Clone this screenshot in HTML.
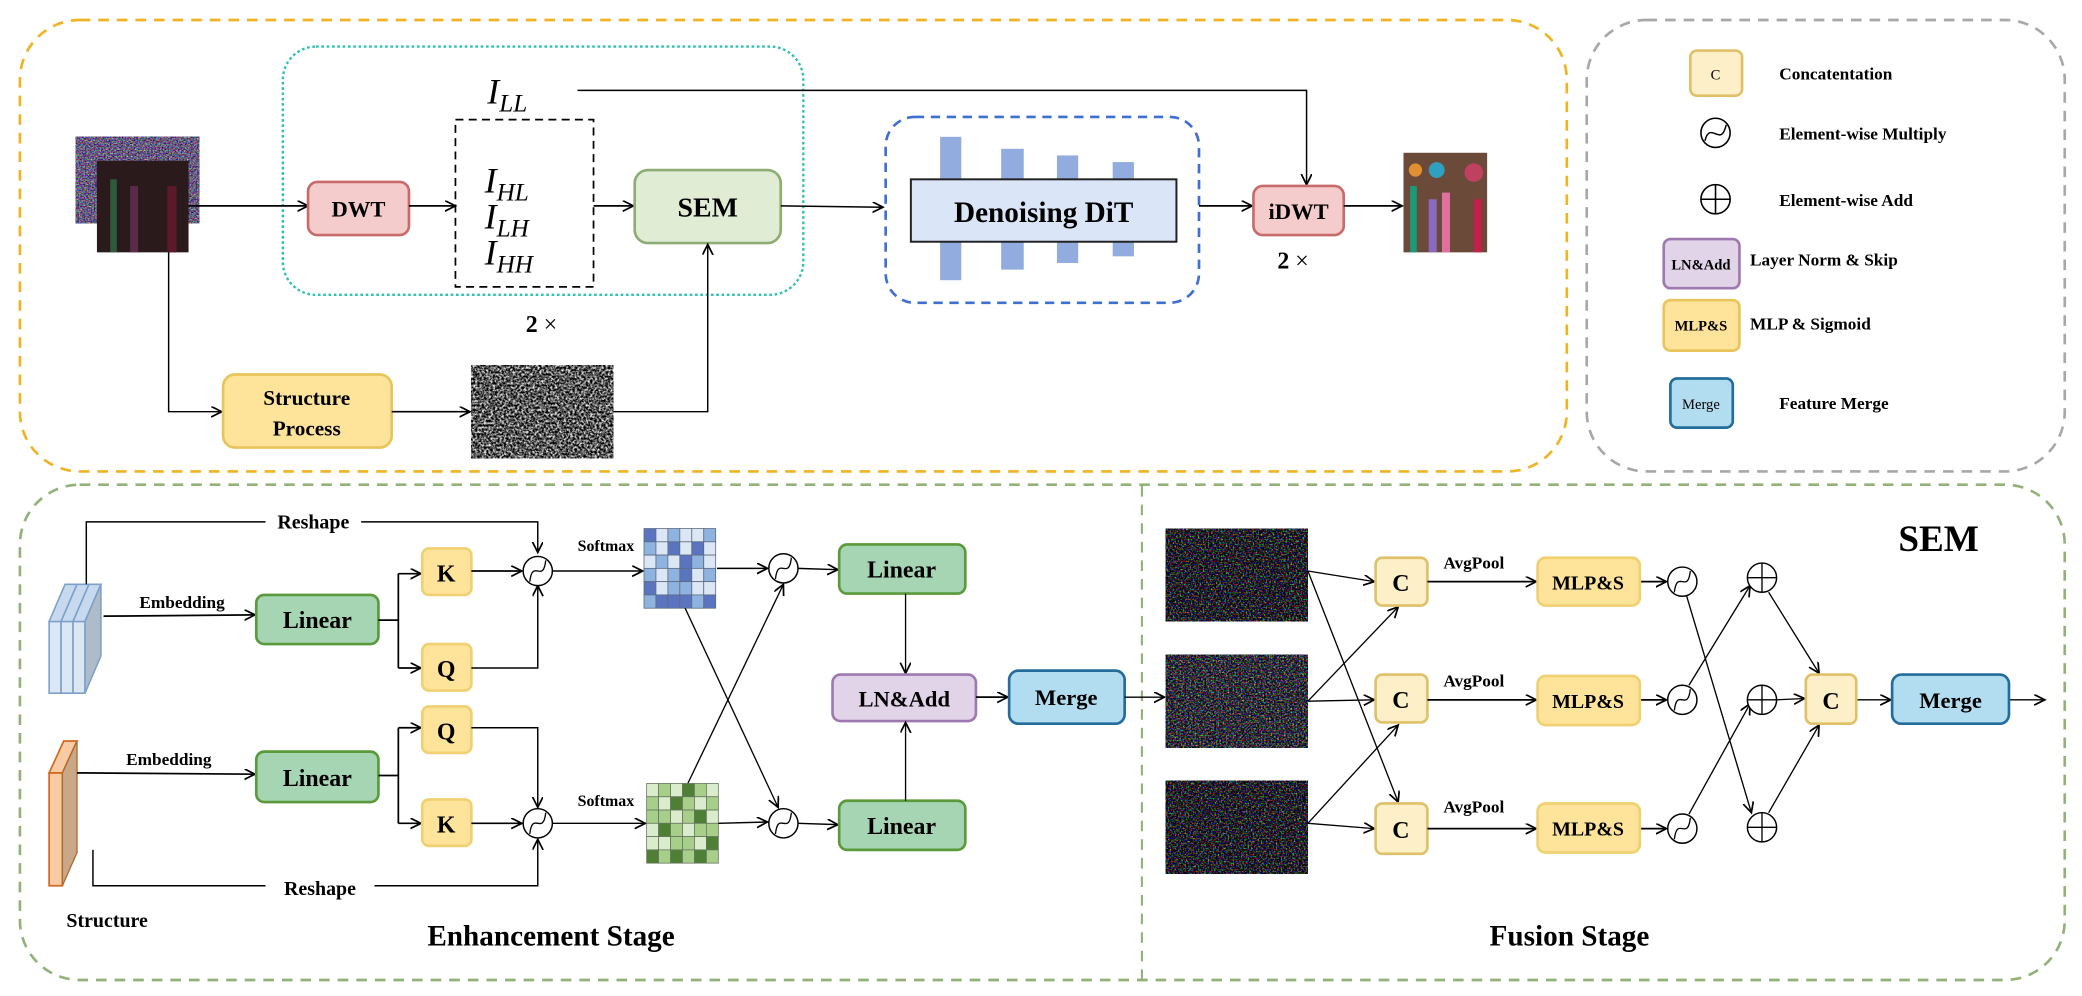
<!DOCTYPE html>
<html><head><meta charset="utf-8"><style>
html,body{margin:0;padding:0;background:#fff}
svg{display:block}
text{font-family:"Liberation Serif",serif;font-weight:bold;fill:#000}
</style></head><body>
<svg width="2082" height="996" viewBox="0 0 1568 750" xmlns="http://www.w3.org/2000/svg">
<defs>
<marker id="a" markerWidth="10" markerHeight="10" refX="8" refY="4" orient="auto" markerUnits="userSpaceOnUse"><path d="M0,0 L8,4 L0,8" fill="none" stroke="#000" stroke-width="1.3"/></marker>
<filter id="nz" x="0" y="0" width="100%" height="100%" color-interpolation-filters="sRGB"><feTurbulence type="fractalNoise" baseFrequency="0.9" numOctaves="2" seed="3"/><feColorMatrix type="matrix" values="1.6 0 0 0 -0.4  0 1.6 0 0 -0.45  0 0 1.6 0 -0.3  0 0 0 0 1"/></filter>
<filter id="gz" x="0" y="0" width="100%" height="100%" color-interpolation-filters="sRGB"><feTurbulence type="fractalNoise" baseFrequency="0.6" numOctaves="3" seed="7"/><feColorMatrix type="matrix" values="2.2 0 0 0 -0.75  2.2 0 0 0 -0.75  2.2 0 0 0 -0.75  0 0 0 0 1"/></filter>
<filter id="cz" x="0" y="0" width="100%" height="100%" color-interpolation-filters="sRGB"><feTurbulence type="fractalNoise" baseFrequency="0.8" numOctaves="2" seed="11"/><feColorMatrix type="matrix" values="2.2 0 0 0 -0.95  0 2.2 0 0 -0.95  0 0 2.2 0 -0.9  0 0 0 0 1"/></filter>
<filter id="dz" x="0" y="0" width="100%" height="100%" color-interpolation-filters="sRGB"><feTurbulence type="fractalNoise" baseFrequency="0.8" numOctaves="2" seed="5"/><feColorMatrix type="matrix" values="2.5 0 0 0 -1.2  0 2.5 0 0 -1.2  0 0 2.5 0 -1.15  0 0 0 0 1"/></filter>
</defs>

<!-- outer boxes -->
<rect x="15" y="15" width="1165" height="340" rx="45" fill="none" stroke="#f0b323" stroke-width="2" stroke-dasharray="8,6"/>
<rect x="1195" y="15" width="360" height="340" rx="45" fill="none" stroke="#a8a8a8" stroke-width="2" stroke-dasharray="8,6"/>
<rect x="15" y="365" width="1540" height="373" rx="45" fill="none" stroke="#93b27a" stroke-width="2" stroke-dasharray="8,6"/>
<line x1="860" y1="366" x2="860" y2="737" stroke="#93b27a" stroke-width="1.6" stroke-dasharray="8,6"/>

<!-- TOP -->
<rect x="213" y="35" width="392" height="187" rx="25" fill="none" stroke="#2fc1b4" stroke-width="1.8" stroke-dasharray="2,2"/>
<rect x="57" y="103" width="93" height="65" filter="url(#nz)"/>
<rect x="73" y="121" width="69" height="69" fill="#2a1a1c"/>
<rect x="83" y="135" width="5" height="55" fill="#2d5a3a"/><rect x="98" y="140" width="6" height="50" fill="#5a2a4a"/><rect x="126" y="140" width="7" height="50" fill="#5a1a2a"/>
<line x1="142" y1="155" x2="232" y2="155" stroke="#000" stroke-width="1.3" marker-end="url(#a)"/>
<rect x="232" y="137" width="76" height="40" rx="7" fill="#f5cccc" stroke="#c76b6b" stroke-width="2"/>
<text x="270" y="163" font-size="17" text-anchor="middle">DWT</text>
<line x1="308" y1="155" x2="343" y2="155" stroke="#000" stroke-width="1.3" marker-end="url(#a)"/>
<rect x="343" y="90" width="104" height="126" fill="none" stroke="#000" stroke-width="1.3" stroke-dasharray="6,4"/>
<g font-style="italic">
<text x="367" y="78" font-size="27" style="font-weight:normal">I<tspan font-size="19" dy="6">LL</tspan></text>
<text x="365" y="145" font-size="27" style="font-weight:normal">I<tspan font-size="19" dy="6">HL</tspan></text>
<text x="365" y="172" font-size="27" style="font-weight:normal">I<tspan font-size="19" dy="6">LH</tspan></text>
<text x="365" y="199" font-size="27" style="font-weight:normal">I<tspan font-size="19" dy="6">HH</tspan></text>
</g>
<line x1="447" y1="155" x2="477" y2="155" stroke="#000" stroke-width="1.3" marker-end="url(#a)"/>
<rect x="478" y="128" width="110" height="55" rx="10" fill="#e0ecd4" stroke="#8eac74" stroke-width="2"/>
<text x="533" y="163" font-size="21" text-anchor="middle">SEM</text>
<line x1="588" y1="155" x2="665" y2="156" stroke="#000" stroke-width="1.1" marker-end="url(#a)"/>
<rect x="667" y="88" width="236" height="140" rx="22" fill="none" stroke="#3f6fd0" stroke-width="2" stroke-dasharray="7,5"/>
<g fill="#93ace0">
<rect x="708" y="103" width="16" height="108"/><rect x="754" y="112" width="17" height="91"/><rect x="796" y="117" width="16" height="81"/><rect x="838" y="122" width="16" height="71"/>
</g>
<rect x="686" y="135" width="200" height="47" fill="#dae6f8" stroke="#222" stroke-width="1.5"/>
<text x="786" y="167" font-size="22" text-anchor="middle">Denoising DiT</text>
<line x1="903" y1="155" x2="943" y2="155" stroke="#000" stroke-width="1.3" marker-end="url(#a)"/>
<polyline points="435,68 984,68 984,139" fill="none" stroke="#000" stroke-width="1.1" marker-end="url(#a)"/>
<rect x="944" y="140" width="68" height="37" rx="7" fill="#f5cccc" stroke="#c76b6b" stroke-width="2"/>
<text x="978" y="165" font-size="17" text-anchor="middle">iDWT</text>
<line x1="1012" y1="155" x2="1056" y2="155" stroke="#000" stroke-width="1.3" marker-end="url(#a)"/>
<rect x="1057" y="115" width="63" height="75" fill="#6b4a3a"/>
<rect x="1062" y="140" width="5" height="50" fill="#1a9a7a"/><rect x="1076" y="150" width="6" height="40" fill="#8a6ac0"/><rect x="1086" y="145" width="6" height="45" fill="#e070a0"/><rect x="1110" y="150" width="6" height="40" fill="#c0204a"/>
<circle cx="1082" cy="128" r="6" fill="#30a0c0"/><circle cx="1110" cy="130" r="7" fill="#c04060"/><circle cx="1066" cy="128" r="5" fill="#e09030"/>
<text x="962" y="202" font-size="18">2 <tspan style="font-weight:normal">×</tspan></text>
<text x="396" y="250" font-size="18">2 <tspan style="font-weight:normal">×</tspan></text>
<polyline points="127,190 127,310 167,310" fill="none" stroke="#000" stroke-width="1.1" marker-end="url(#a)"/>
<rect x="168" y="282" width="127" height="55" rx="9" fill="#fde49a" stroke="#e8c45a" stroke-width="2"/>
<text x="231" y="305" font-size="16" text-anchor="middle">Structure</text>
<text x="231" y="328" font-size="16" text-anchor="middle">Process</text>
<line x1="295" y1="310" x2="354" y2="310" stroke="#000" stroke-width="1.3" marker-end="url(#a)"/>
<rect x="355" y="275" width="107" height="70" filter="url(#gz)"/>
<polyline points="462,310 533,310 533,184" fill="none" stroke="#000" stroke-width="1.1" marker-end="url(#a)"/>

<!-- LEGEND -->
<rect x="1273" y="38" width="39" height="34" rx="5" fill="#fdf0c8" stroke="#e0c068" stroke-width="2"/>
<text x="1292" y="60" font-size="11" text-anchor="middle" style="font-weight:normal">C</text>
<text x="1340" y="60" font-size="13">Concatentation</text>
<circle cx="1292" cy="100" r="11" fill="#fff" stroke="#000" stroke-width="1.2"/>
<path d="M1284,106 C1288,90 1296,112 1300,94" fill="none" stroke="#000" stroke-width="1.1"/>
<text x="1340" y="105" font-size="13">Element-wise Multiply</text>
<circle cx="1292" cy="150" r="11" fill="#fff" stroke="#000" stroke-width="1.2"/>
<line x1="1281" y1="150" x2="1303" y2="150" stroke="#000" stroke-width="1.2"/><line x1="1292" y1="139" x2="1292" y2="161" stroke="#000" stroke-width="1.2"/>
<text x="1340" y="155" font-size="13">Element-wise Add</text>
<rect x="1253" y="180" width="57" height="37" rx="5" fill="#e2d4e8" stroke="#9d79b0" stroke-width="2"/>
<text x="1281" y="203" font-size="11" text-anchor="middle">LN&amp;Add</text>
<text x="1318" y="200" font-size="13">Layer Norm &amp; Skip</text>
<rect x="1253" y="226" width="57" height="38" rx="5" fill="#fde49a" stroke="#e8c45a" stroke-width="2"/>
<text x="1281" y="249" font-size="11" text-anchor="middle">MLP&amp;S</text>
<text x="1318" y="248" font-size="13">MLP &amp; Sigmoid</text>
<rect x="1258" y="285" width="47" height="37" rx="5" fill="#b2dcf0" stroke="#236d9b" stroke-width="2"/>
<text x="1281" y="308" font-size="11" text-anchor="middle" style="font-weight:normal">Merge</text>
<text x="1340" y="308" font-size="13">Feature Merge</text>

<!-- ENHANCEMENT -->
<g stroke="#7ea0c8" stroke-width="1.2">
<polygon points="37,468 46,468 46,522 37,522" fill="#dbe7f5"/><polygon points="37,468 46,468 58,440 49,440" fill="#c6d9ef"/>
<polygon points="46,468 55,468 55,522 46,522" fill="#dbe7f5"/><polygon points="46,468 55,468 67,440 58,440" fill="#c6d9ef"/>
<polygon points="55,468 64,468 64,522 55,522" fill="#dbe7f5"/><polygon points="55,468 64,468 76,440 67,440" fill="#c6d9ef"/>
<polygon points="64,468 76,440 76,494 64,522" fill="#aebbc8"/>
</g>
<polyline points="65,440 65,393 200,393" fill="none" stroke="#000" stroke-width="1.1"/>
<text x="236" y="398" font-size="15" text-anchor="middle">Reshape</text>
<polyline points="272,393 405,393 405,416" fill="none" stroke="#000" stroke-width="1.1" marker-end="url(#a)"/>
<text x="105" y="458" font-size="13">Embedding</text>
<line x1="78" y1="464" x2="192" y2="463" stroke="#000" stroke-width="1.3" marker-end="url(#a)"/>
<rect x="193" y="448" width="92" height="37" rx="6" fill="#a6d5b4" stroke="#5a9a3a" stroke-width="2"/>
<text x="239" y="473" font-size="18" text-anchor="middle">Linear</text>
<polyline points="285,467 300,467" fill="none" stroke="#000" stroke-width="1.3"/>
<polyline points="300,432 300,503" fill="none" stroke="#000" stroke-width="1.3"/>
<line x1="300" y1="432" x2="317" y2="432" stroke="#000" stroke-width="1.3" marker-end="url(#a)"/>
<line x1="300" y1="503" x2="317" y2="503" stroke="#000" stroke-width="1.3" marker-end="url(#a)"/>
<rect x="318" y="413" width="37" height="35" rx="5" fill="#fde49a" stroke="#f0d070" stroke-width="2"/>
<text x="336" y="438" font-size="18" text-anchor="middle">K</text>
<rect x="318" y="485" width="37" height="35" rx="5" fill="#fde49a" stroke="#f0d070" stroke-width="2"/>
<text x="336" y="510" font-size="18" text-anchor="middle">Q</text>
<line x1="355" y1="430" x2="393" y2="430" stroke="#000" stroke-width="1.3" marker-end="url(#a)"/>
<polyline points="355,503 405,503 405,441" fill="none" stroke="#000" stroke-width="1.1" marker-end="url(#a)"/>
<circle cx="405" cy="430" r="11" fill="#fff" stroke="#000" stroke-width="1.1"/><path d="M399,438 C401,420 409,440 411,422" fill="none" stroke="#000"/>
<text x="435" y="415" font-size="12">Softmax</text>
<line x1="416" y1="430" x2="484" y2="430" stroke="#000" stroke-width="1.1" marker-end="url(#a)"/>
<g stroke="#5e6b80" stroke-width="0.6">
<rect x="485" y="398" width="9" height="10" fill="#5b74c0"/><rect x="494" y="398" width="9" height="10" fill="#dbe7f5"/><rect x="503" y="398" width="9" height="10" fill="#8fb3e0"/><rect x="512" y="398" width="9" height="10" fill="#dbe7f5"/><rect x="521" y="398" width="9" height="10" fill="#dbe7f5"/><rect x="530" y="398" width="9" height="10" fill="#8fb3e0"/>
<rect x="485" y="408" width="9" height="10" fill="#8fb3e0"/><rect x="494" y="408" width="9" height="10" fill="#dbe7f5"/><rect x="503" y="408" width="9" height="10" fill="#5b74c0"/><rect x="512" y="408" width="9" height="10" fill="#dbe7f5"/><rect x="521" y="408" width="9" height="10" fill="#5b74c0"/><rect x="530" y="408" width="9" height="10" fill="#dbe7f5"/>
<rect x="485" y="418" width="9" height="10" fill="#dbe7f5"/><rect x="494" y="418" width="9" height="10" fill="#8fb3e0"/><rect x="503" y="418" width="9" height="10" fill="#dbe7f5"/><rect x="512" y="418" width="9" height="10" fill="#5b74c0"/><rect x="521" y="418" width="9" height="10" fill="#8fb3e0"/><rect x="530" y="418" width="9" height="10" fill="#dbe7f5"/>
<rect x="485" y="428" width="9" height="10" fill="#8fb3e0"/><rect x="494" y="428" width="9" height="10" fill="#dbe7f5"/><rect x="503" y="428" width="9" height="10" fill="#8fb3e0"/><rect x="512" y="428" width="9" height="10" fill="#5b74c0"/><rect x="521" y="428" width="9" height="10" fill="#dbe7f5"/><rect x="530" y="428" width="9" height="10" fill="#8fb3e0"/>
<rect x="485" y="438" width="9" height="10" fill="#5b74c0"/><rect x="494" y="438" width="9" height="10" fill="#dbe7f5"/><rect x="503" y="438" width="9" height="10" fill="#8fb3e0"/><rect x="512" y="438" width="9" height="10" fill="#8fb3e0"/><rect x="521" y="438" width="9" height="10" fill="#dbe7f5"/><rect x="530" y="438" width="9" height="10" fill="#dbe7f5"/>
<rect x="485" y="448" width="9" height="10" fill="#8fb3e0"/><rect x="494" y="448" width="9" height="10" fill="#5b74c0"/><rect x="503" y="448" width="9" height="10" fill="#5b74c0"/><rect x="512" y="448" width="9" height="10" fill="#5b74c0"/><rect x="521" y="448" width="9" height="10" fill="#8fb3e0"/><rect x="530" y="448" width="9" height="10" fill="#5b74c0"/>
</g>
<line x1="540" y1="428" x2="578" y2="428" stroke="#000" stroke-width="1.1" marker-end="url(#a)"/>
<circle cx="590" cy="428" r="11" fill="#fff" stroke="#000" stroke-width="1.1"/><path d="M584,436 C586,418 594,438 596,420" fill="none" stroke="#000"/>
<line x1="601" y1="428" x2="631" y2="429" stroke="#000" stroke-width="1.1" marker-end="url(#a)"/>
<rect x="632" y="410" width="95" height="37" rx="6" fill="#a6d5b4" stroke="#5a9a3a" stroke-width="2"/>
<text x="679" y="435" font-size="18" text-anchor="middle">Linear</text>
<line x1="682" y1="447" x2="682" y2="507" stroke="#000" stroke-width="1" marker-end="url(#a)"/>
<rect x="627" y="508" width="108" height="35" rx="6" fill="#e2d4e8" stroke="#9d79b0" stroke-width="2"/>
<text x="681" y="532" font-size="17" text-anchor="middle">LN&amp;Add</text>
<line x1="735" y1="525" x2="759" y2="525" stroke="#000" stroke-width="1.3" marker-end="url(#a)"/>
<rect x="760" y="505" width="87" height="40" rx="7" fill="#b2dcf0" stroke="#236d9b" stroke-width="2"/>
<text x="803" y="531" font-size="17" text-anchor="middle">Merge</text>
<line x1="847" y1="525" x2="877" y2="525" stroke="#000" stroke-width="1.1" marker-end="url(#a)"/>
<line x1="516" y1="458" x2="586" y2="608" stroke="#000" stroke-width="1" marker-end="url(#a)"/>
<line x1="518" y1="590" x2="590" y2="440" stroke="#000" stroke-width="1" marker-end="url(#a)"/>

<polygon points="37,582 47,582 47,667 37,667" fill="#f8cba4" stroke="#d46a20" stroke-width="1.3"/>
<polygon points="37,582 47,582 58,558 48,558" fill="#f8cba4" stroke="#d46a20" stroke-width="1.3"/>
<polygon points="47,582 58,558 58,642 47,667" fill="#c8a888" stroke="#b06a30" stroke-width="1"/>
<text x="95" y="576" font-size="13">Embedding</text>
<line x1="58" y1="582" x2="192" y2="583" stroke="#000" stroke-width="1.3" marker-end="url(#a)"/>
<rect x="193" y="566" width="92" height="38" rx="6" fill="#a6d5b4" stroke="#5a9a3a" stroke-width="2"/>
<text x="239" y="592" font-size="18" text-anchor="middle">Linear</text>
<line x1="285" y1="584" x2="300" y2="584" stroke="#000" stroke-width="1.3"/>
<line x1="300" y1="548" x2="300" y2="620" stroke="#000" stroke-width="1.3"/>
<line x1="300" y1="548" x2="317" y2="548" stroke="#000" stroke-width="1.3" marker-end="url(#a)"/>
<line x1="300" y1="620" x2="317" y2="620" stroke="#000" stroke-width="1.3" marker-end="url(#a)"/>
<rect x="318" y="532" width="37" height="35" rx="5" fill="#fde49a" stroke="#f0d070" stroke-width="2"/>
<text x="336" y="557" font-size="18" text-anchor="middle">Q</text>
<rect x="318" y="602" width="37" height="35" rx="5" fill="#fde49a" stroke="#f0d070" stroke-width="2"/>
<text x="336" y="627" font-size="18" text-anchor="middle">K</text>
<polyline points="355,548 405,548 405,608" fill="none" stroke="#000" stroke-width="1.1" marker-end="url(#a)"/>
<line x1="355" y1="620" x2="393" y2="620" stroke="#000" stroke-width="1.3" marker-end="url(#a)"/>
<circle cx="405" cy="620" r="11" fill="#fff" stroke="#000" stroke-width="1.1"/><path d="M399,628 C401,610 409,630 411,612" fill="none" stroke="#000"/>
<polyline points="70,640 70,667 200,667" fill="none" stroke="#000" stroke-width="1.1"/>
<text x="241" y="674" font-size="15" text-anchor="middle">Reshape</text>
<polyline points="282,667 405,667 405,632" fill="none" stroke="#000" stroke-width="1.1" marker-end="url(#a)"/>
<text x="435" y="607" font-size="12">Softmax</text>
<line x1="416" y1="620" x2="486" y2="620" stroke="#000" stroke-width="1.1" marker-end="url(#a)"/>
<g stroke="#667760" stroke-width="0.6">
<rect x="487" y="590" width="9" height="10" fill="#dbeccd"/><rect x="496" y="590" width="9" height="10" fill="#a8cf8a"/><rect x="505" y="590" width="9" height="10" fill="#dbeccd"/><rect x="514" y="590" width="9" height="10" fill="#4f7f35"/><rect x="523" y="590" width="9" height="10" fill="#a8cf8a"/><rect x="532" y="590" width="9" height="10" fill="#dbeccd"/>
<rect x="487" y="600" width="9" height="10" fill="#a8cf8a"/><rect x="496" y="600" width="9" height="10" fill="#dbeccd"/><rect x="505" y="600" width="9" height="10" fill="#4f7f35"/><rect x="514" y="600" width="9" height="10" fill="#a8cf8a"/><rect x="523" y="600" width="9" height="10" fill="#dbeccd"/><rect x="532" y="600" width="9" height="10" fill="#a8cf8a"/>
<rect x="487" y="610" width="9" height="10" fill="#a8cf8a"/><rect x="496" y="610" width="9" height="10" fill="#a8cf8a"/><rect x="505" y="610" width="9" height="10" fill="#dbeccd"/><rect x="514" y="610" width="9" height="10" fill="#a8cf8a"/><rect x="523" y="610" width="9" height="10" fill="#4f7f35"/><rect x="532" y="610" width="9" height="10" fill="#dbeccd"/>
<rect x="487" y="620" width="9" height="10" fill="#dbeccd"/><rect x="496" y="620" width="9" height="10" fill="#4f7f35"/><rect x="505" y="620" width="9" height="10" fill="#a8cf8a"/><rect x="514" y="620" width="9" height="10" fill="#dbeccd"/><rect x="523" y="620" width="9" height="10" fill="#a8cf8a"/><rect x="532" y="620" width="9" height="10" fill="#a8cf8a"/>
<rect x="487" y="630" width="9" height="10" fill="#dbeccd"/><rect x="496" y="630" width="9" height="10" fill="#dbeccd"/><rect x="505" y="630" width="9" height="10" fill="#a8cf8a"/><rect x="514" y="630" width="9" height="10" fill="#a8cf8a"/><rect x="523" y="630" width="9" height="10" fill="#dbeccd"/><rect x="532" y="630" width="9" height="10" fill="#4f7f35"/>
<rect x="487" y="640" width="9" height="10" fill="#4f7f35"/><rect x="496" y="640" width="9" height="10" fill="#a8cf8a"/><rect x="505" y="640" width="9" height="10" fill="#4f7f35"/><rect x="514" y="640" width="9" height="10" fill="#a8cf8a"/><rect x="523" y="640" width="9" height="10" fill="#4f7f35"/><rect x="532" y="640" width="9" height="10" fill="#a8cf8a"/>
</g>
<line x1="541" y1="620" x2="578" y2="619" stroke="#000" stroke-width="1.1" marker-end="url(#a)"/>
<circle cx="590" cy="620" r="11" fill="#fff" stroke="#000" stroke-width="1.1"/><path d="M584,628 C586,610 594,630 596,612" fill="none" stroke="#000"/>
<line x1="601" y1="620" x2="631" y2="621" stroke="#000" stroke-width="1.1" marker-end="url(#a)"/>
<rect x="632" y="603" width="95" height="37" rx="6" fill="#a6d5b4" stroke="#5a9a3a" stroke-width="2"/>
<text x="679" y="628" font-size="18" text-anchor="middle">Linear</text>
<line x1="682" y1="603" x2="682" y2="544" stroke="#000" stroke-width="1" marker-end="url(#a)"/>
<text x="50" y="698" font-size="15">Structure</text>
<text x="415" y="712" font-size="22" text-anchor="middle">Enhancement Stage</text>

<!-- FUSION -->
<rect x="878" y="398" width="107" height="70" fill="#000"/>
<rect x="878" y="398" width="107" height="70" filter="url(#dz)"/>
<rect x="878" y="493" width="107" height="70" filter="url(#cz)"/>
<rect x="878" y="588" width="107" height="70" filter="url(#dz)"/>
<g stroke="#000" stroke-width="1" fill="none" marker-end="url(#a)">
<line x1="985" y1="430" x2="1035" y2="438"/>
<line x1="985" y1="430" x2="1053" y2="604"/>
<line x1="985" y1="528" x2="1053" y2="457"/>
<line x1="985" y1="528" x2="1035" y2="527"/>
<line x1="985" y1="620" x2="1053" y2="546"/>
<line x1="985" y1="620" x2="1035" y2="624"/>
</g>
<g font-size="18" text-anchor="middle">
<rect x="1036" y="420" width="39" height="36" rx="5" fill="#fdf0c8" stroke="#e0c068" stroke-width="2"/><text x="1055" y="445">C</text>
<rect x="1036" y="508" width="39" height="36" rx="5" fill="#fdf0c8" stroke="#e0c068" stroke-width="2"/><text x="1055" y="533">C</text>
<rect x="1036" y="605" width="39" height="38" rx="5" fill="#fdf0c8" stroke="#e0c068" stroke-width="2"/><text x="1055" y="631">C</text>
</g>
<g font-size="13"><text x="1087" y="428">AvgPool</text><text x="1087" y="517">AvgPool</text><text x="1087" y="612">AvgPool</text></g>
<g stroke="#000" stroke-width="1.3" marker-end="url(#a)">
<line x1="1075" y1="438" x2="1157" y2="438"/><line x1="1075" y1="527" x2="1157" y2="527"/><line x1="1075" y1="624" x2="1157" y2="624"/>
<line x1="1235" y1="438" x2="1255" y2="438"/><line x1="1235" y1="527" x2="1255" y2="527"/><line x1="1235" y1="624" x2="1255" y2="624"/>
</g>
<g font-size="15" text-anchor="middle">
<rect x="1158" y="420" width="77" height="36" rx="6" fill="#fde49a" stroke="#f0d070" stroke-width="2"/><text x="1196" y="444">MLP&amp;S</text>
<rect x="1158" y="509" width="77" height="37" rx="6" fill="#fde49a" stroke="#f0d070" stroke-width="2"/><text x="1196" y="533">MLP&amp;S</text>
<rect x="1158" y="605" width="77" height="37" rx="6" fill="#fde49a" stroke="#f0d070" stroke-width="2"/><text x="1196" y="629">MLP&amp;S</text>
</g>
<g stroke="#000" stroke-width="1" fill="none" marker-end="url(#a)">
<line x1="1270" y1="448" x2="1319" y2="612"/>
<line x1="1272" y1="516" x2="1318" y2="441"/>
<line x1="1272" y1="613" x2="1318" y2="530"/>
<line x1="1332" y1="446" x2="1370" y2="507"/>
<line x1="1338" y1="527" x2="1359" y2="526"/>
<line x1="1332" y1="612" x2="1370" y2="546"/>
<line x1="1398" y1="527" x2="1424" y2="527"/>
<line x1="1513" y1="527" x2="1540" y2="527"/>
</g>
<g fill="#fff" stroke="#000" stroke-width="1.1">
<circle cx="1267" cy="438" r="11"/><circle cx="1267" cy="527" r="11"/><circle cx="1267" cy="624" r="11"/>
<circle cx="1327" cy="435" r="11"/><circle cx="1327" cy="527" r="11"/><circle cx="1327" cy="623" r="11"/>
</g>
<g stroke="#000" stroke-width="1" fill="none">
<path d="M1261,446 C1263,428 1271,448 1273,430"/><path d="M1261,535 C1263,517 1271,537 1273,519"/><path d="M1261,632 C1263,614 1271,634 1273,616"/>
<path d="M1316,435 H1338 M1327,424 V446 M1316,527 H1338 M1327,516 V538 M1316,623 H1338 M1327,612 V634"/>
</g>
<rect x="1360" y="508" width="38" height="37" rx="5" fill="#fdf0c8" stroke="#e0c068" stroke-width="2"/>
<text x="1379" y="534" font-size="18" text-anchor="middle">C</text>
<rect x="1425" y="508" width="88" height="37" rx="7" fill="#b2dcf0" stroke="#236d9b" stroke-width="2"/>
<text x="1469" y="533" font-size="17" text-anchor="middle">Merge</text>
<text x="1460" y="415" font-size="28" text-anchor="middle">SEM</text>
<text x="1182" y="712" font-size="22" text-anchor="middle">Fusion Stage</text>
</svg>
</body></html>
